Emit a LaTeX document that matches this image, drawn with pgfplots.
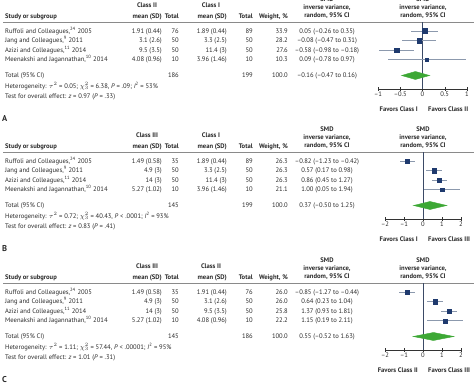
\documentclass[border=0pt]{standalone}
\usepackage{pgfplots}
\pgfplotsset{compat=1.18}
\usepackage{pgfplotstable}
\usepackage{fontspec}
\setmainfont{PT Sans}
\definecolor{navy}{HTML}{1F3A6E}
\definecolor{cigray}{HTML}{8C99AD}
\definecolor{dgreen}{HTML}{3DA835}
\definecolor{zline}{HTML}{3B4A66}
\definecolor{rulec}{HTML}{8A8A8A}
\definecolor{txt}{HTML}{2A2A2A}
\newcommand\tf{\fontsize{6.6}{7}\selectfont}

\pgfplotstableread{
smd lo hi w row
0.05 -0.26 0.35 33.9 -9
-0.08 -0.47 0.31 28.2 -18.7
-0.58 -0.98 -0.18 27.6 -28.3
0.09 -0.78 0.97 10.3 -37.8
}\dataA
\pgfplotstableread{
smd lo hi w row
-0.82 -1.23 -0.42 26.3 -9
0.57 0.17 0.98 26.3 -18.7
0.86 0.45 1.27 26.3 -28.3
1.00 0.05 1.94 21.1 -37.8
}\dataB
\pgfplotstableread{
smd lo hi w row
-0.85 -1.27 -0.44 26.0 -9
0.64 0.23 1.04 26.0 -18.7
1.37 0.93 1.81 25.8 -28.3
1.15 0.19 2.11 22.2 -37.8
}\dataC

\newcommand\trow[8]{%
 \node[anchor=base west] at (5,{-#1-2.2}) {#2};
 \node[anchor=base east] at (162,{-#1-2.2}) {#3};
 \node[anchor=base east] at (179,{-#1-2.2}) {#4};
 \node[anchor=base east] at (227,{-#1-2.2}) {#5};
 \node[anchor=base east] at (253,{-#1-2.2}) {#6};
 \node[anchor=base east] at (288,{-#1-2.2}) {#7};
 \node[anchor=base] at (327,{-#1-2.2}) {#8};
}
\newcommand\hdr[2]{%
 \node[anchor=base] at (147,{17-2.2}) {\bfseries #1};
 \node[anchor=base east] at (162,{6-2.2}) {\bfseries mean (SD)};
 \node[anchor=base east] at (179,{6-2.2}) {\bfseries Total};
 \node[anchor=base] at (211,{17-2.2}) {\bfseries #2};
 \node[anchor=base east] at (227,{6-2.2}) {\bfseries mean (SD)};
 \node[anchor=base east] at (253,{6-2.2}) {\bfseries Total};
 \node[anchor=base east] at (288,{6-2.2}) {\bfseries Weight, \%};
 \node[anchor=base west] at (5,{6-2.2}) {\bfseries Study or subgroup};
 \foreach \xx in {327,423}{
 \node[anchor=base] at (\xx,{22.3-2.2}) {\bfseries SMD};
 \node[anchor=base] at (\xx,{14.7-2.2}) {\bfseries inverse variance,};
 \node[anchor=base] at (\xx,{7-2.2}) {\bfseries random, 95\% CI};}
 \draw[rulec, line width=0.6pt] (3,0) -- (474,0);
}
\newcommand\studies[4]{%
 \trow{9}{Ruffoli and Colleagues,\textsuperscript{24} 2005}#1
 \trow{18.7}{Jang and Colleagues,\textsuperscript{9} 2011}#2
 \trow{28.3}{Azizi and Colleagues,\textsuperscript{11} 2014}#3
 \trow{37.8}{Meenakshi and Jagannathan,\textsuperscript{10} 2014}#4
}
\newcommand\foot[5]{%
 \trow{53.5}{Total (95\% CI)}{}{#1}{}{#2}{100.0}{#3}
 \node[anchor=base west] at (5,{-64.0-2.2}) {#4};
 \node[anchor=base west] at (5,{-74.8-2.2}) {#5};
}
\newcommand\favors[2]{%
 \node[anchor=base east] at (418,{-87-2.2}) {\bfseries Favors #1};
 \node[anchor=base west] at (428,{-87-2.2}) {\bfseries Favors #2};
}
\newcommand\chisq{$\chi^{2}_{\raisebox{0.9pt}{$\scriptscriptstyle 3$}}$}
\pgfplotsset{forest/.style={anchor=south west, scale only axis, height=67pt,
 ymin=-67, ymax=0, hide y axis, axis x line*=bottom, clip=false,
 tick align=center, major tick length=3.5pt,
 x tick label style={font=\tf, text=txt, inner sep=1pt},
 axis line style={line width=0.5pt, black!80}, tick style={black!80, line width=0.5pt}},
 studyplot/.style={only marks, scatter, mark=square*,
 scatter/use mapped color={draw=navy, fill=navy},
 visualization depends on={0.9+\thisrow{w}/22 \as \msz},
 scatter/@pre marker code/.append style={/tikz/mark size=\msz},
 error bars/.cd, x dir=both, x explicit, error mark=none,
 error bar style={cigray, line width=0.8pt}}}

\begin{document}
\begin{tikzpicture}[x=1pt, y=1pt]
\path[use as bounding box] (0,0) rectangle (474,387);

% ---------- Panel A ----------
\begin{scope}[yshift=365pt, every node/.append style={inner sep=0pt, font=\tf, text=txt}]
\hdr{Class II}{Class I}
\studies{{1.91 (0.44)}{76}{1.89 (0.44)}{89}{33.9}{0.05 (\textendash0.26 to 0.35)}}
 {{3.1 (2.6)}{50}{3.3 (2.5)}{50}{28.2}{\textendash0.08 (\textendash0.47 to 0.31)}}
 {{9.5 (3.5)}{50}{11.4 (3)}{50}{27.6}{\textendash0.58 (\textendash0.98 to \textendash0.18)}}
 {{4.08 (0.96)}{10}{3.96 (1.46)}{10}{10.3}{0.09 (\textendash0.78 to 0.97)}}
\foot{186}{199}{\textendash0.16 (\textendash0.47 to 0.16)}
 {Heterogeneity: $\tau^2$ = 0.05; \chisq{} = 6.38, \textit{P} = .09; \textit{I}\textsuperscript{2} = 53\%}
 {Test for overall effect: \textit{z} = 0.97 (\textit{P} = .33)}
\favors{Class I}{Class II}
\node[anchor=base west, font=\fontsize{8.5}{9}\selectfont\bfseries] at (2,{-97-3}) {A};
\end{scope}
\begin{axis}[forest, at={(378pt,298pt)}, width=89pt, xmin=-1, xmax=1,
 xtick={-1,-0.5,0,0.5,1}, xticklabels={\textendash1,\textendash0.5,0,0.5,1}]
\addplot[zline, line width=0.6pt] coordinates {(0,-67) (0,0)};
\addplot[studyplot] table[x=smd, y=row, x error plus expr=\thisrow{hi}-\thisrow{smd}, x error minus expr=\thisrow{smd}-\thisrow{lo}] {\dataA};
\addplot[fill=dgreen, draw=dgreen] coordinates {(-0.47,-53.5) (-0.16,-49.5) (0.16,-53.5) (-0.16,-57.5)} -- cycle;
\end{axis}

% ---------- Panel B ----------
\begin{scope}[yshift=235pt, every node/.append style={inner sep=0pt, font=\tf, text=txt}]
\hdr{Class III}{Class I}
\studies{{1.49 (0.58)}{35}{1.89 (0.44)}{89}{26.3}{\textendash0.82 (\textendash1.23 to \textendash0.42)}}
 {{4.9 (3)}{50}{3.3 (2.5)}{50}{26.3}{0.57 (0.17 to 0.98)}}
 {{14 (3)}{50}{11.4 (3)}{50}{26.3}{0.86 (0.45 to 1.27)}}
 {{5.27 (1.02)}{10}{3.96 (1.46)}{10}{21.1}{1.00 (0.05 to 1.94)}}
\foot{145}{199}{0.37 (\textendash0.50 to 1.25)}
 {Heterogeneity: $\tau^2$ = 0.72; \chisq{} = 40.43, \textit{P} < .0001; \textit{I}\textsuperscript{2} = 93\%}
 {Test for overall effect: \textit{z} = 0.83 (\textit{P} = .41)}
\favors{Class I}{Class III}
\node[anchor=base west, font=\fontsize{8.5}{9}\selectfont\bfseries] at (2,{-97-3}) {B};
\end{scope}
\begin{axis}[forest, at={(385pt,168pt)}, width=76pt, xmin=-2, xmax=2,
 xtick={-2,-1,0,1,2}, xticklabels={\textendash2,\textendash1,0,1,2}]
\addplot[zline, line width=0.6pt] coordinates {(0,-67) (0,0)};
\addplot[studyplot] table[x=smd, y=row, x error plus expr=\thisrow{hi}-\thisrow{smd}, x error minus expr=\thisrow{smd}-\thisrow{lo}] {\dataB};
\addplot[fill=dgreen, draw=dgreen] coordinates {(-0.50,-53.5) (0.37,-49.5) (1.25,-53.5) (0.37,-57.5)} -- cycle;
\end{axis}

% ---------- Panel C ----------
\begin{scope}[yshift=104pt, every node/.append style={inner sep=0pt, font=\tf, text=txt}]
\hdr{Class III}{Class II}
\studies{{1.49 (0.58)}{35}{1.91 (0.44)}{76}{26.0}{\textendash0.85 (\textendash1.27 to \textendash0.44)}}
 {{4.9 (3)}{50}{3.1 (2.6)}{50}{26.0}{0.64 (0.23 to 1.04)}}
 {{14 (3)}{50}{9.5 (3.5)}{50}{25.8}{1.37 (0.93 to 1.81)}}
 {{5.27 (1.02)}{10}{4.08 (0.96)}{10}{22.2}{1.15 (0.19 to 2.11)}}
\foot{145}{186}{0.55 (\textendash0.52 to 1.63)}
 {Heterogeneity: $\tau^2$ = 1.11; \chisq{} = 57.44, \textit{P} < .00001; \textit{I}\textsuperscript{2} = 95\%}
 {Test for overall effect: \textit{z} = 1.01 (\textit{P} = .31)}
\favors{Class II}{Class III}
\node[anchor=base west, font=\fontsize{8.5}{9}\selectfont\bfseries] at (2,{-97-3}) {C};
\end{scope}
\begin{axis}[forest, at={(385pt,37pt)}, width=76pt, xmin=-2, xmax=2,
 xtick={-2,-1,0,1,2}, xticklabels={\textendash2,\textendash1,0,1,2}]
\addplot[zline, line width=0.6pt] coordinates {(0,-67) (0,0)};
\addplot[studyplot] table[x=smd, y=row, x error plus expr=\thisrow{hi}-\thisrow{smd}, x error minus expr=\thisrow{smd}-\thisrow{lo}] {\dataC};
\addplot[fill=dgreen, draw=dgreen] coordinates {(-0.52,-53.5) (0.55,-49.5) (1.63,-53.5) (0.55,-57.5)} -- cycle;
\end{axis}
\end{tikzpicture}
\end{document}
